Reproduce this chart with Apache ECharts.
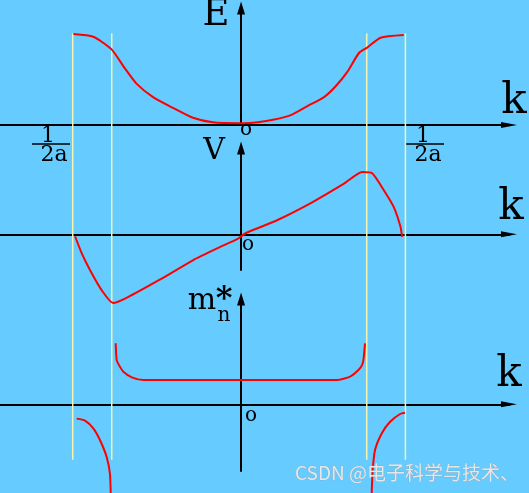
<!DOCTYPE html>
<head>
    <meta charset="utf-8">
    <title>E-k, v-k, m*-k</title>
    <script src="https://cdn.jsdelivr.net/npm/echarts@6/dist/echarts.min.js"></script>
    <style>
      body { margin:0; background:#66ccff; }
      #main { width:529px; height:493px; }
    </style>
</head>
<body>
<div id="main"></div>

<script type="text/javascript">
// k in units of 1/2a
var kE   = [-1.01,-0.89,-0.78,-0.70,-0.63,-0.53,-0.41,-0.29,-0.17,-0.01,0.01,0.10,0.20,0.30,0.40,0.50,0.57,0.64,0.71,0.76,0.84,0.98];
var eVal = [1.01,0.98,0.84,0.63,0.46,0.31,0.19,0.08,0.03,0.02,0.02,0.03,0.06,0.11,0.21,0.31,0.43,0.59,0.80,0.86,0.97,1.00];

var kV   = [-1.00,-0.96,-0.91,-0.84,-0.77,-0.69,-0.49,-0.29,-0.13,-0.02,0.03,0.22,0.42,0.62,0.73,0.79,0.86,0.92,0.96,0.97];
var vVal = [-0.03,-0.29,-0.55,-0.86,-1.06,-0.98,-0.70,-0.40,-0.20,-0.07,0.02,0.22,0.48,0.78,0.96,0.94,0.68,0.42,0.12,-0.04];

// effective mass, three branches
var kMid   = [-0.755,-0.749,-0.730,-0.709,-0.658,-0.589,0.577,0.657,0.707,0.728,0.737,0.747];
var mMid   = [2.51,1.82,1.55,1.34,1.11,1.00,1.00,1.14,1.41,1.60,1.82,2.51];
var kLeft  = [-0.99,-0.94,-0.89,-0.85,-0.81,-0.79,-0.785];
var mLeft  = [-0.59,-0.67,-0.99,-1.47,-2.16,-2.84,-3.66];
var kRight = [0.787,0.793,0.807,0.848,0.898,0.958,0.988];
var mRight = [-3.65,-2.70,-1.88,-1.19,-0.72,-0.40,-0.35];

// pale guide lines (k), drawn in the E grid from top to bottom of the figure
var guideK = [-1.014,-0.779,0.757,0.990];
var guideTop = 1.02, guideBottom = -3.72;

var K_MIN = -1.452, K_MAX = 1.614;
var E_MIN = 0, E_MAX = 1.30;
var V_MIN = -0.55, V_MAX = 1.33;
var M_MIN = -2.745, M_MAX = 4.333;

function pairs(xs, ys) {
  var out = [];
  for (var i = 0; i < xs.length; i++) out.push([xs[i], ys[i]]);
  return out;
}

function kAxis(i) {
  return {
    type:'value', gridIndex:i, min:K_MIN, max:K_MAX,
    axisLine:{onZero:true, lineStyle:{color:'#000', width:2}, symbol:['none','triangle'], symbolSize:[6,16]},
    axisTick:{show:false}, axisLabel:{show:false}, splitLine:{show:false}
  };
}
function yAxis(i, lo, hi) {
  return {
    type:'value', gridIndex:i, min:lo, max:hi,
    axisLine:{show:true, onZero:true, lineStyle:{color:'#000', width:2}, symbol:['none','triangle'], symbolSize:[8,13]},
    axisTick:{show:false}, axisLabel:{show:false}, splitLine:{show:false}
  };
}
function curve(i, data) {
  return {
    type:'line', xAxisIndex:i, yAxisIndex:i, data:data,
    symbol:'none', smooth:0.2, clip:false, silent:true, z:3,
    lineStyle:{color:'#ff0000', width:2}
  };
}

var serif = '"DejaVu Serif", serif';
function label(t, x, y, size, extra) {
  var st = {text:t, x:x, y:y, fontSize:size, fontFamily:serif, fill:'#000', align:'center', verticalAlign:'middle'};
  for (var p in extra) st[p] = extra[p];
  return {type:'text', style:st, z:10};
}

var series = [
  curve(0, pairs(kE, eVal)),
  curve(1, pairs(kV, vVal)),
  curve(2, pairs(kMid, mMid)),
  curve(2, pairs(kLeft, mLeft)),
  curve(2, pairs(kRight, mRight))
];
guideK.forEach(function (k) {
  series.push({
    type:'line', xAxisIndex:0, yAxisIndex:0, data:[[k, guideTop],[k, guideBottom]],
    symbol:'none', clip:false, silent:true, z:1,
    lineStyle:{color:'#f4f4b0', width:1.5}
  });
});

var myChart = echarts.init(document.getElementById('main'));
var option = {
  backgroundColor:'#66ccff',
  animation:false,
  grid:[
    {left:0, right:20, top:8, bottom:368},
    {left:0, right:20, top:148, bottom:223},
    {left:0, right:20, top:299, bottom:22}
  ],
  xAxis:[kAxis(0), kAxis(1), kAxis(2)],
  yAxis:[yAxis(0, E_MIN, E_MAX), yAxis(1, V_MIN, V_MAX), yAxis(2, M_MIN, M_MAX)],
  series:series,
  graphic:[
    label('E', 216, 15, 37),
    label('V', 214, 151, 30),
    label('k', 514, 102, 42),
    label('k', 511, 208, 42),
    label('k', 509, 375, 42),
    label('o', 246, 130, 20),
    label('o', 248, 245, 20),
    label('o', 251, 416, 20),
    label('m', 202, 301, 30),
    label('*', 224, 300, 32, {fontWeight:'bold'}),
    label('n', 224, 316, 20),
    label('1', 48, 136, 22),
    label('2a', 54, 155, 22),
    label('1', 423, 136, 22),
    label('2a', 428, 155, 22),
    {type:'line', shape:{x1:32, y1:144, x2:70, y2:144}, style:{stroke:'#000', lineWidth:1.5}},
    {type:'line', shape:{x1:405, y1:144, x2:444, y2:144}, style:{stroke:'#000', lineWidth:1.5}},
    {type:'text', z:10, style:{text:'CSDN @电子科学与技术、', x:295, y:473, fontSize:19,
      fontFamily:'"Noto Sans CJK SC", sans-serif', fill:'#e6e6e6', stroke:'#8a9cab', lineWidth:0.5,
      align:'left', verticalAlign:'middle'}}
  ]
};
myChart.setOption(option);
</script>
</body>
